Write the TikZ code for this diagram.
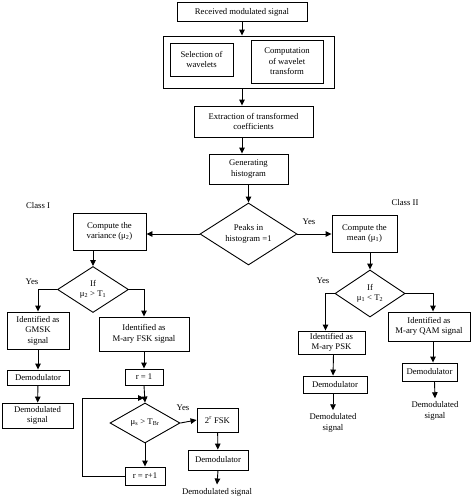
\documentclass[tikz,border=0pt]{standalone}
\usepackage{fontspec}
\setmainfont{Liberation Serif}
\usepackage{tikz}
\usetikzlibrary{arrows.meta, calc, positioning, shapes.geometric}

\begin{document}
\begin{tikzpicture}[
        x=1pt, y=-1pt,
        every node/.style={font=\fontsize{8.7}{10.5}\selectfont, align=center},
        box/.style={draw, line width=0.9pt, inner sep=1pt},
        dia/.style={draw, diamond, line width=0.9pt, inner sep=0pt, aspect=1.5},
        arr/.style={line width=0.9pt, -{Triangle[length=6pt, width=5.5pt]}},
      ]
      \useasboundingbox (0,0) rectangle (474,498);

      % Vorverarbeitung
      \node[box, minimum width=130, minimum height=19] (rx) at (242,12) {Received modulated signal};
      \node[box, minimum width=171, minimum height=52] (wt) at (248.5,62) {};
      \node[box, minimum width=63, minimum height=33] (sel) at (201.5,59.5) {Selection of\\wavelets};
      \node[box, minimum width=72, minimum height=43] (comp) at (287,61.5) {Computation\\of wavelet\\transform};
      \node[box, minimum width=119, minimum height=31] (ext) at (253.5,121.5) {Extraction of transformed\\coefficients};
      \node[box, minimum width=79, minimum height=30] (gen) at (248.5,169) {Generating\\histogram};
      \node[dia, minimum width=97, minimum height=62] (peak) at (248.5,234) {Peaks in\\histogram =1};

      \draw[arr] (rx.south) -- (rx.south |- wt.north);
      \draw[arr] (rx.south |- wt.south) -- (rx.south |- ext.north);
      \draw[arr] (rx.south |- ext.south) -- (rx.south |- gen.north);
      \draw[arr] (gen.south) -- (peak.north);

      % Klasse I
      \node (cls1) at (38,206) {Class I};
      \node[box, minimum width=73, minimum height=37] (var) at (109.5,231.5) {Compute the\\variance (μ\textsubscript{2})};
      \node[dia, minimum width=71, minimum height=46] (c1) at (93,289.5) {If\\μ\textsubscript{2} > T\textsubscript{1}};
      \node (yes1) at (32,282) {Yes};
      \node[box, minimum width=62, minimum height=37] (gmsk) at (38,330.5) {Identified as\\GMSK\\signal};
      \node[box, minimum width=62, minimum height=15] (dm1) at (38,377.5) {Demodulator};
      \node[box, minimum width=71, minimum height=25] (ds1) at (37.5,415.5) {Demodulated\\signal};
      \node[box, minimum width=90, minimum height=34] (fsk) at (144,334) {Identified as\\M-ary FSK signal};
      \node[box, minimum width=38, minimum height=16] (r1) at (144,377) {r = 1};
      \node[dia, minimum width=70, minimum height=40] (lp) at (145,423) {μ\textsubscript{s} > T\textsubscript{Br}};
      \node (yes2) at (183,408) {Yes};
      \node[box, minimum width=40, minimum height=18] (rr) at (145,476) {r = r+1};
      \node[box, minimum width=41, minimum height=24] (rfsk) at (217.5,420) {2\textsuperscript{r} FSK};
      \node[box, minimum width=60, minimum height=20] (dm2) at (218,460) {Demodulator};
      \node (ds2) at (217,492) {Demodulated signal};
      \coordinate (loopin) at (144,398);

      \draw[arr] (peak.west) -- (var.east |- peak.west);
      \draw[arr] (c1.north |- var.south) -- (c1.north);
      \draw[arr] (c1.west) -| (gmsk.north);
      \draw[arr] (c1.east) -| (fsk.north);
      \draw[arr] (gmsk) -- (dm1);
      \draw[arr] (dm1) -- (ds1);
      \draw[arr] (fsk) -- (r1);
      \draw[arr] (r1.south) -- (lp.north);
      \draw[arr] (lp) -- (rr);
      \draw[arr] (rr.west) -- ++(-42,0) |- (loopin);
      \draw[arr] (lp.east) -- (rfsk.west);
      \draw[arr] (rfsk) -- (dm2);
      \draw[arr] (dm2.south) -- (ds2.north);

      % Klasse II
      \node (cls2) at (405,203) {Class II};
      \node (yes0) at (309,222) {Yes};
      \node[box, minimum width=65, minimum height=37] (mean) at (364.5,233.5) {Compute the\\mean (μ\textsubscript{1})};
      \node[dia, minimum width=70, minimum height=47] (c2) at (370,293.5) {If\\μ\textsubscript{1} < T\textsubscript{2}};
      \node (yes3) at (323,281) {Yes};
      \node[box, minimum width=67, minimum height=23] (psk) at (331.5,342.5) {Identified as\\M-ary PSK};
      \node[box, minimum width=82, minimum height=29] (qam) at (429,326.5) {Identified as\\M-ary QAM signal};
      \node[box, minimum width=64, minimum height=17] (dm3) at (335,384.5) {Demodulator};
      \node (ds3) at (333,423) {Demodulated\\signal};
      \node[box, minimum width=55, minimum height=18] (dm4) at (429.5,372) {Demodulator};
      \node (ds4) at (435,411) {Demodulated\\signal};

      \draw[arr] (peak.east) -- (mean.west |- peak.east);
      \draw[arr] (c2.north |- mean.south) -- (c2.north);
      \draw[arr] (c2.west) -| ([xshift=-6]psk.north);
      \draw[arr] (c2.east) -| ([xshift=4]qam.north);
      \draw[arr] ([xshift=2]psk.south) -- ([xshift=-2]dm3.north);
      \draw[arr] ([xshift=-2]dm3.south) -- (ds3.north);
      \draw[arr] ([xshift=4]qam.south) -- ([xshift=4]qam.south |- dm4.north);
      \draw[arr] ([xshift=5]dm4.south) -- (ds4.north);
    \end{tikzpicture}
\end{document}
